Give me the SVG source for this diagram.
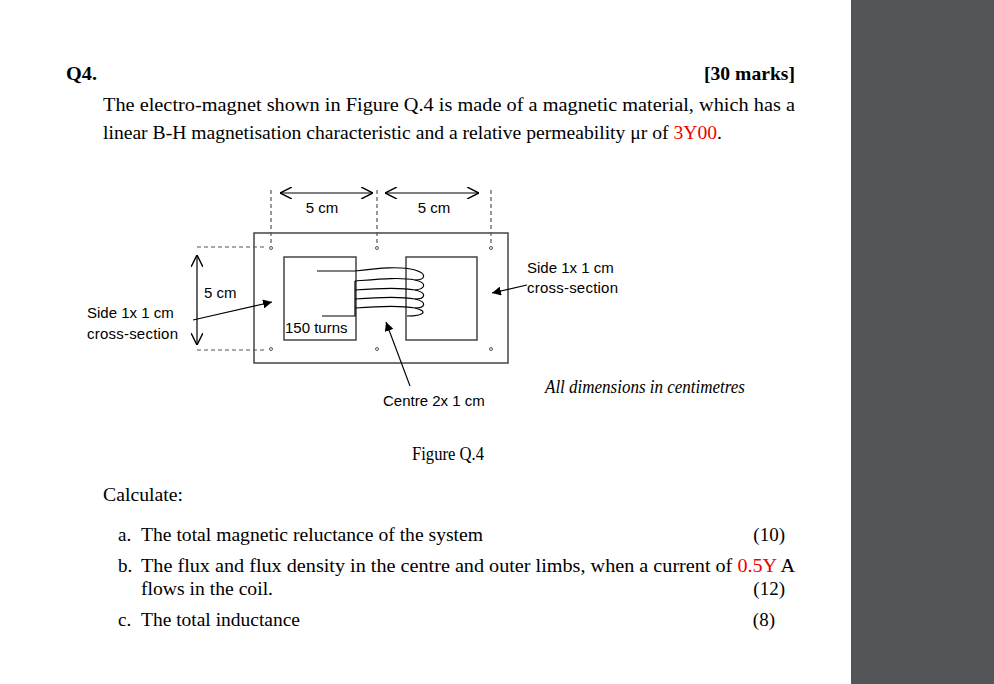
<svg xmlns="http://www.w3.org/2000/svg" width="994" height="684" viewBox="0 0 994 684">
<defs>
<marker id="ah" viewBox="0 0 10 10" refX="10" refY="5" markerWidth="9" markerHeight="9" orient="auto-start-reverse" markerUnits="userSpaceOnUse"><path d="M0,0 L10,5 L0,10 z" fill="#000"/></marker>
<marker id="oa" viewBox="0 0 10 10" refX="10" refY="5" markerWidth="12" markerHeight="12" orient="auto-start-reverse" markerUnits="userSpaceOnUse"><path d="M0,0 L10,5 L0,10" fill="none" stroke="#000" stroke-width="1.2"/></marker>
<style>
.t{font-family:"Liberation Serif",serif;font-size:19px;fill:#000}
.s{font-family:"Liberation Sans",sans-serif;font-size:15px;fill:#000}
.d{stroke:#555;stroke-width:1.2;stroke-dasharray:4,3;fill:none}
.l{stroke:#000;stroke-width:1.2;fill:none}
.r{fill:#fff;stroke:#444;stroke-width:1.5}
.red{fill:#e00}
</style>
</defs>
<rect x="0" y="0" width="994" height="684" fill="#525659"/>
<rect x="0" y="0" width="851" height="684" fill="#fff"/>
<text class="t" x="66" y="80" font-weight="bold" textLength="31" lengthAdjust="spacingAndGlyphs">Q4.</text>
<text class="t" x="704" y="80" font-weight="bold" textLength="91" lengthAdjust="spacingAndGlyphs">[30 marks]</text>
<text class="t" x="103" y="111" textLength="692" lengthAdjust="spacingAndGlyphs">The electro-magnet shown in Figure Q.4 is made of a magnetic material, which has a</text>
<text class="t" x="103" y="139" textLength="619" lengthAdjust="spacingAndGlyphs">linear B-H magnetisation characteristic and a relative permeability μr of <tspan class="red">3Y00</tspan>.</text>
<g id="core">
<rect class="r" x="254" y="233" width="254" height="130"/>
<rect class="r" x="284" y="257" width="72" height="83"/>
<rect class="r" x="406" y="257" width="71" height="83"/>
<g fill="none" stroke="#555" stroke-width="1">
<circle cx="271" cy="248" r="1.5"/><circle cx="377" cy="248" r="1.5"/><circle cx="491" cy="248" r="1.5"/>
<circle cx="271" cy="349" r="1.5"/><circle cx="377" cy="349" r="1.5"/><circle cx="491" cy="349" r="1.5"/>
</g>
</g>
<g id="coil" class="l" stroke-width="1">
<path d="M317,271 H355 C380,268 400,266 415,270 C428,274 425,280 415,280"/>
<path d="M355,281 C380,279 400,277 415,280 C428,283 425,289 415,290"/>
<path d="M355,290 C380,288 400,287 415,290 C428,293 425,299 415,299"/>
<path d="M355,299 C380,297 400,296 415,299 C428,302 425,308 415,308"/>
<path d="M355,308 C380,306 400,305 415,308 C428,311 425,316 407,316"/>
<path d="M355,281 V316 H322"/>
</g>
<g id="dims">
<path class="d" d="M271,190 V243 M377,190 V243 M491,190 V243 M197,247 H264 M197,350 H264"/>
<path class="l" d="M280,193 H373" marker-start="url(#oa)" marker-end="url(#oa)"/>
<path class="l" d="M385,193 H479" marker-start="url(#oa)" marker-end="url(#oa)"/>
<path class="l" d="M197,255 V345" marker-start="url(#oa)" marker-end="url(#oa)"/>
<text class="s" x="322" y="213" text-anchor="middle">5 cm</text>
<text class="s" x="434" y="213" text-anchor="middle">5 cm</text>
<text class="s" x="204" y="298">5 cm</text>
<text class="s" x="285" y="333">150 turns</text>
</g>
<g id="connectors">
<path class="l" d="M193,320 L272,302" marker-end="url(#ah)"/>
<path class="l" d="M527,285 L492,293" marker-end="url(#ah)"/>
<path class="l" d="M410,386 L386,322" marker-end="url(#ah)"/>
</g>
<g id="labels">
<text class="s" x="87" y="318">Side 1x 1 cm</text>
<text class="s" x="87" y="339" textLength="91">cross-section</text>
<text class="s" x="527" y="273">Side 1x 1 cm</text>
<text class="s" x="527" y="293" textLength="91">cross-section</text>
<text class="s" x="383" y="406">Centre 2x 1 cm</text>
<text class="t" x="545" y="393" font-style="italic" font-size="16" textLength="200" lengthAdjust="spacingAndGlyphs">All dimensions in centimetres</text>
<text class="t" x="412" y="460" font-size="16" textLength="72" lengthAdjust="spacingAndGlyphs">Figure Q.4</text>
</g>
<text class="t" x="103" y="501" textLength="80" lengthAdjust="spacingAndGlyphs">Calculate:</text>
<text class="t" x="118" y="541">a.</text><text class="t" x="141" y="541" textLength="342" lengthAdjust="spacingAndGlyphs">The total magnetic reluctance of the system</text>
<text class="t" x="785" y="541" text-anchor="end">(10)</text>
<text class="t" x="118" y="572">b.</text><text class="t" x="141" y="572" textLength="654" lengthAdjust="spacingAndGlyphs">The flux and flux density in the centre and outer limbs, when a current of <tspan class="red">0.5Y</tspan> A</text>
<text class="t" x="141" y="595" textLength="132" lengthAdjust="spacingAndGlyphs">flows in the coil.</text>
<text class="t" x="785" y="595" text-anchor="end">(12)</text>
<text class="t" x="118" y="626">c.</text><text class="t" x="141" y="626" textLength="159" lengthAdjust="spacingAndGlyphs">The total inductance</text>
<text class="t" x="775" y="626" text-anchor="end">(8)</text>
</svg>
